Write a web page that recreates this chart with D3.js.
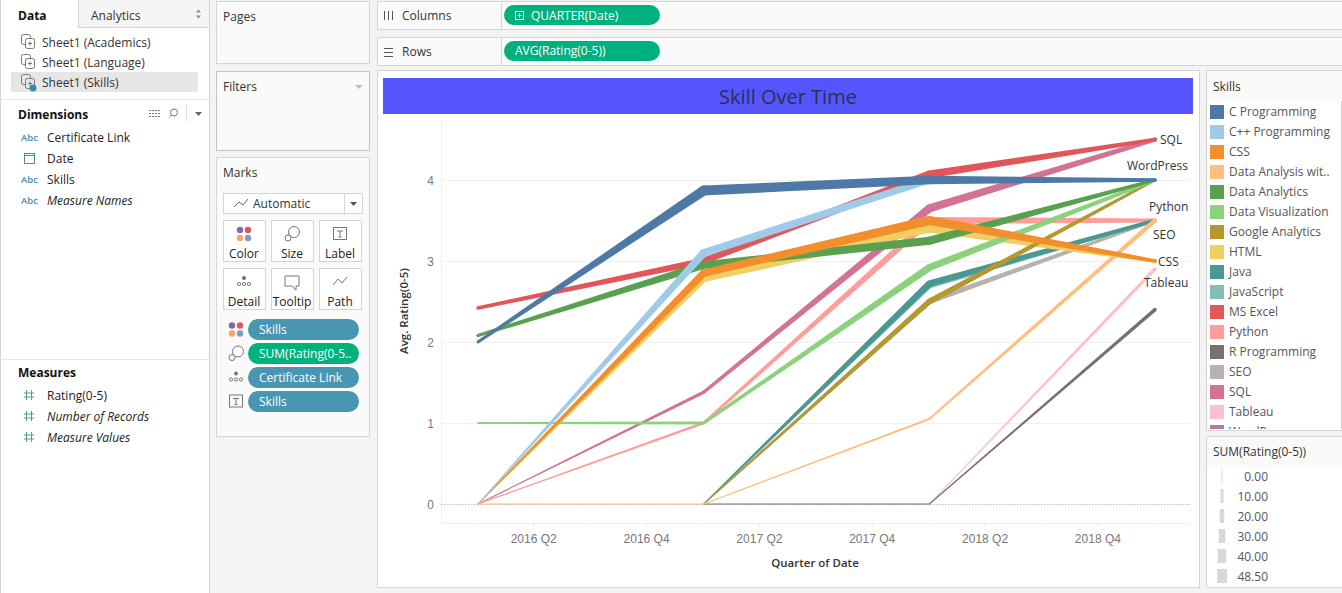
<!DOCTYPE html>
<html>
<head>
<meta charset="utf-8">
<script src="https://cdn.jsdelivr.net/npm/d3@7"></script>
<style>
    html, body { margin: 0; padding: 0; background: #f3f3f3; overflow: hidden; }
    svg { display: block; font-family: "Open Sans", "Noto Sans", sans-serif; }
    text { fill: #333; font-size: 12px; }
</style>
</head>
<body>
<div id="viz"></div>
<script>
// quarters are counted from 2016 Q1, marks only exist on the Q1 of each year
var markQuarters = [0, 4, 8, 12];
var tickQuarters = [1, 3, 5, 7, 9, 11];
var minorQuarters = [0, 2, 4, 6, 8, 10, 12];
var tickLabels = ['2016 Q2', '2016 Q4', '2017 Q2', '2017 Q4', '2018 Q2', '2018 Q4'];
var ratingTicks = [0, 1, 2, 3, 4];

var skills = ['C Programming', 'C++ Programming', 'CSS', 'Data Analysis wit..', 'Data Analytics',
    'Data Visualization', 'Google Analytics', 'HTML', 'Java', 'JavaScript', 'MS Excel', 'Python',
    'R Programming', 'SEO', 'SQL', 'Tableau', 'WordPress'];
var skillColors = ['#4e79a7', '#a0cbe8', '#f28e2b', '#ffbe7d', '#59a14f', '#8cd17d', '#b6992d', '#f1ce63',
    '#499894', '#86bcb6', '#e15759', '#ff9d9a', '#79706e', '#bab0ac', '#d37295', '#fabfd2', '#b07aa1'];

// avg rating at each mark quarter, same order as skills
var ratings = [
    [2.0, 3.87, 4.0, 4.0],
    [0, 3.1, 4.0, 4.0],
    [0, 2.85, 3.5, 3.0],
    [0, 0, 1.05, 3.5],
    [2.08, 2.95, 3.25, 4.0],
    [1, 1, 2.92, 4.0],
    [null, 0, 2.5, 4.0],
    [0, 2.78, 3.4, 3.0],
    [null, 0, 2.72, 3.5],
    [null, 0, 2.7, 3.5],
    [2.42, 3.0, 4.07, 4.5],
    [0, 1, 3.5, 3.5],
    [null, 0, 0, 2.4],
    [null, 0, 2.5, 3.5],
    [0, 1.38, 3.65, 4.5],
    [null, null, 0, 2.9],
    [null, 0, 2.5, 4.0]
];

// sum of rating at each mark quarter, drives the line thickness
var ratingSums = [
    [10, 48.5, 40, 14],
    [0, 37, 32, 14],
    [0, 34, 44, 15],
    [0, 0, 6, 18],
    [12, 35, 39, 12],
    [5, 10, 33, 12],
    [null, 0, 25, 8],
    [0, 30, 38, 14],
    [null, 0, 30, 14],
    [null, 0, 28, 12],
    [14, 30, 37, 15],
    [0, 8, 32, 16],
    [null, 0, 0, 14],
    [null, 0, 24, 10],
    [0, 12, 38, 18],
    [null, null, 0, 14],
    [null, 0, 20, 8]
];

var sizeLegend = [0, 10, 20, 30, 40, 48.5];

var dataSources = ['Sheet1 (Academics)', 'Sheet1 (Language)', 'Sheet1 (Skills)'];
var dimensions = ['Certificate Link', 'Date', 'Skills', 'Measure Names'];
var measures = ['Rating(0-5)', 'Number of Records', 'Measure Values'];
var markCards = ['Color', 'Size', 'Label', 'Detail', 'Tooltip', 'Path'];
var markPills = ['Skills', 'SUM(Rating(0-5..', 'Certificate Link', 'Skills'];

var width = 1342, height = 593;
var svg = d3.select('#viz').append('svg').attr('width', width).attr('height', height);

var borderColor = '#d4d4d4';
var green = '#00b180', teal = '#4996b2';

// stroked boxes sit on the half pixel so the border stays crisp
function box(x, y, w, h, fill, stroke) {
    var off = stroke ? 0.5 : 0;
    return svg.append('rect')
        .attr('x', x + off).attr('y', y + off)
        .attr('width', w).attr('height', h)
        .attr('fill', fill).attr('stroke', stroke || 'none');
}

function label(x, y, str, opts) {
    opts = opts || {};
    return svg.append('text')
        .attr('x', x).attr('y', y + 1)
        .attr('dy', '0.35em')
        .attr('text-anchor', opts.anchor || 'start')
        .style('font-size', (opts.size || 12) + 'px')
        .style('font-weight', opts.weight || 400)
        .style('font-style', opts.italic ? 'italic' : 'normal')
        .style('fill', opts.fill || '#333')
        .text(str);
}

function pill(x, y, w, h, fill, str) {
    box(x, y, w, h, fill).attr('rx', h / 2).attr('ry', h / 2);
    label(x + 11, y + h / 2 - 0.5, str, {fill: '#fff'});
}

function drawIcon(kind, cx, cy) {
    var g = svg.append('g').attr('transform', 'translate(' + cx + ',' + cy + ')')
        .attr('fill', 'none').attr('stroke', '#777');
    if (kind === 'Color') {
        var dots = [[-4, -4, '#7f6a9b'], [4, -4, '#e15759'], [-4, 4, '#f1a66d'], [4, 4, '#7f9cc9']];
        g.attr('stroke', 'none').selectAll('circle').data(dots).enter().append('circle')
            .attr('cx', function(d) { return d[0]; })
            .attr('cy', function(d) { return d[1]; })
            .attr('r', 3.2)
            .attr('fill', function(d) { return d[2]; });
    } else if (kind === 'Size') {
        g.append('circle').attr('cx', 2).attr('cy', -2).attr('r', 5.5).attr('fill', '#fff');
        g.append('circle').attr('cx', -4).attr('cy', 4).attr('r', 3).attr('fill', '#fff');
    } else if (kind === 'Label') {
        g.append('rect').attr('x', -6.5).attr('y', -6.5).attr('width', 13).attr('height', 12);
        g.append('path').attr('d', 'M-3,-3H3M0,-3V3M-1.5,3H1.5');
    } else if (kind === 'Detail') {
        g.append('circle').attr('cx', 0).attr('cy', -4).attr('r', 1.6).attr('fill', '#777');
        [-5, 0, 5].forEach(function(dx) {
            g.append('circle').attr('cx', dx).attr('cy', 2).attr('r', 1.6);
        });
    } else if (kind === 'Tooltip') {
        g.append('path').attr('d', 'M-7,-6H7V4H4V8L0,4H-7Z');
    } else if (kind === 'Path') {
        g.append('path').attr('d', 'M-7,3L-2,-3L2,1L7,-5');
    }
}

// left data pane
box(0, -1, 209, 595, '#fff', borderColor);
box(78, -1, 131, 28, '#f5f5f5', borderColor);
svg.append('line').attr('x1', 0).attr('x2', 209).attr('y1', 99.5).attr('y2', 99.5).attr('stroke', '#e6e6e6');
svg.append('line').attr('x1', 0).attr('x2', 209).attr('y1', 359.5).attr('y2', 359.5).attr('stroke', '#e6e6e6');
label(18, 15, 'Data', {weight: 700, fill: '#111'});
label(91, 15, 'Analytics');
svg.append('path').attr('d', 'M196,12.5l2.5,-3l2.5,3ZM196,15.5l2.5,3l2.5,-3Z').attr('fill', '#8a8a8a');

box(11, 72, 187, 20, '#e6e6e6');
dataSources.forEach(function(name, i) {
    var y = 42 + i * 20;
    svg.append('rect').attr('x', 21.5).attr('y', y - 7.5).attr('width', 9).attr('height', 10).attr('rx', 2)
        .attr('fill', 'none').attr('stroke', '#777');
    svg.append('rect').attr('x', 25.5).attr('y', y - 3.5).attr('width', 9).attr('height', 10).attr('rx', 2)
        .attr('fill', i === 2 ? '#e6e6e6' : '#fff').attr('stroke', '#777');
    svg.append('path').attr('d', 'M28,' + (y + 1.5) + 'h4M30,' + (y - 0.5) + 'v4').attr('stroke', '#777');
    if (i === 2) {
        svg.append('circle').attr('cx', 33).attr('cy', y + 6).attr('r', 3.5).attr('fill', '#3b86b5');
    }
    label(42, y, name);
});

label(18, 114, 'Dimensions', {weight: 700, fill: '#111'});
svg.append('path').attr('d', 'M149,110.5h11M149,113.5h11M149,116.5h11').attr('stroke', '#777').attr('stroke-dasharray', '2 1');
svg.append('circle').attr('cx', 174).attr('cy', 112.5).attr('r', 3.5).attr('fill', 'none').attr('stroke', '#777');
svg.append('path').attr('d', 'M171.5,115l-2.5,2.5').attr('stroke', '#777');
svg.append('line').attr('x1', 186.5).attr('x2', 186.5).attr('y1', 105).attr('y2', 121).attr('stroke', '#ddd');
svg.append('path').attr('d', 'M195,112h7l-3.5,4Z').attr('fill', '#666');

dimensions.forEach(function(name, i) {
    var y = 137 + i * 21;
    if (name === 'Date') {
        box(24, y - 5, 10, 10, '#fff', '#4a8cb0');
        svg.append('line').attr('x1', 24).attr('x2', 34).attr('y1', y - 2.5).attr('y2', y - 2.5).attr('stroke', '#4a8cb0');
    } else {
        label(21, y, 'Abc', {size: 9.5, fill: '#4a8cb0', weight: 600});
    }
    label(47, y, name, {italic: i === 3, fill: '#222'});
});

label(18, 372, 'Measures', {weight: 700, fill: '#111'});
measures.forEach(function(name, i) {
    var y = 395 + i * 21;
    svg.append('path').attr('d', 'M26.5,' + (y - 5) + 'v10M31.5,' + (y - 5) + 'v10M24,' + (y - 2) + 'h10M24,' + (y + 2) + 'h10')
        .attr('stroke', '#4aa57f');
    label(47, y, name, {italic: i > 0, fill: '#222'});
});

// pages, filters, marks cards
box(216, 1, 153, 62, '#fafafa', borderColor);
label(223, 16, 'Pages');
box(216, 71, 153, 79, '#fafafa', '#c4c4c4');
label(223, 86, 'Filters');
svg.append('path').attr('d', 'M355,85h8l-4,4Z').attr('fill', '#bbb');
box(216, 157, 153, 279, '#fafafa', borderColor);
label(223, 172, 'Marks');

box(223, 193, 139, 20, '#fff', borderColor);
svg.append('line').attr('x1', 344.5).attr('x2', 344.5).attr('y1', 193).attr('y2', 213).attr('stroke', borderColor);
svg.append('path').attr('d', 'M234,207l5,-5l4,3l5,-6').attr('fill', 'none').attr('stroke', '#666');
label(253, 203, 'Automatic');
svg.append('path').attr('d', 'M350,202h7l-3.5,4Z').attr('fill', '#555');

markCards.forEach(function(name, i) {
    var cx = 244 + (i % 3) * 48;
    var top = 220 + Math.floor(i / 3) * 48;
    box(cx - 21, top, 42, 41, '#fff', borderColor);
    drawIcon(name, cx, top + 14);
    label(cx, top + 33, name, {anchor: 'middle', fill: '#222'});
});

markPills.forEach(function(name, i) {
    var y = 319 + i * 24;
    pill(248, y, 111, 21, i === 1 ? green : teal, name);
    drawIcon(markCards[[0, 1, 3, 2][i]], 236, y + 10.5);
});

// columns and rows shelves
box(377, 1, 966, 28, '#fafafa', borderColor);
box(377, 37, 966, 28, '#fafafa', borderColor);
svg.append('line').attr('x1', 501.5).attr('x2', 501.5).attr('y1', 1).attr('y2', 29).attr('stroke', borderColor);
svg.append('line').attr('x1', 501.5).attr('x2', 501.5).attr('y1', 37).attr('y2', 65).attr('stroke', borderColor);
svg.append('path').attr('d', 'M384.5,11v9M388.5,11v9M392.5,11v9').attr('stroke', '#555');
label(402, 15, 'Columns');
svg.append('path').attr('d', 'M384,48.5h9M384,52.5h9M384,56.5h9').attr('stroke', '#555');
label(402, 51, 'Rows');
pill(504, 5, 156, 20, green, '');
svg.append('rect').attr('x', 515.5).attr('y', 11.5).attr('width', 8).attr('height', 8).attr('fill', 'none').attr('stroke', '#fff');
svg.append('path').attr('d', 'M517.5,15.5h4M519.5,13.5v4').attr('stroke', '#fff');
label(531, 15, 'QUARTER(Date)', {fill: '#fff'});
pill(504, 41, 156, 20, green, '');
label(515, 50, 'AVG(Rating(0-5))', {fill: '#fff'});

// view
box(377, 70, 822, 517, '#fff', borderColor);
box(383, 78, 810, 36, '#5555ff');
label(788, 96, 'Skill Over Time', {anchor: 'middle', size: 20, fill: '#2f2f4a'});

var x = d3.scaleLinear().domain([0, 12]).range([478, 1155]);
var y = d3.scaleLinear().domain([0, 4]).range([504, 180]);
var size = d3.scaleLinear().domain([0, 48.5]).range([1, 10]);

var plot = svg.append('g');

plot.append('line').attr('x1', 441.5).attr('x2', 441.5).attr('y1', 120).attr('y2', 523).attr('stroke', '#f0f0f0');
plot.append('line').attr('x1', 441).attr('x2', 1191).attr('y1', 523.5).attr('y2', 523.5).attr('stroke', '#f0f0f0');

var yAxis = d3.axisLeft(y).tickValues(ratingTicks).tickSize(0).tickPadding(0).tickFormat(d3.format('d'));
var yAxisG = plot.append('g').attr('transform', 'translate(434,1)').call(yAxis);
yAxisG.select('.domain').remove();
yAxisG.selectAll('text').style('fill', '#777').style('font-size', '12px');

plot.selectAll('.grid').data(ratingTicks.filter(function(d) { return d > 0; })).enter().append('line')
    .attr('x1', 441).attr('x2', 1191)
    .attr('y1', function(d) { return y(d) + 0.5; })
    .attr('y2', function(d) { return y(d) + 0.5; })
    .attr('stroke', '#f0f0f0');
plot.append('line').attr('x1', 441).attr('x2', 1191)
    .attr('y1', y(0) + 0.5).attr('y2', y(0) + 0.5)
    .attr('stroke', '#bbb').attr('stroke-dasharray', '1.5 1.5');

// the axis ticks sit about a pixel left of the marks in the reference
var minorAxis = d3.axisBottom(x).tickValues(minorQuarters).tickSize(2).tickFormat('');
var minorG = plot.append('g').attr('transform', 'translate(-1.2,523)').call(minorAxis);
minorG.select('.domain').remove();
minorG.selectAll('line').attr('stroke', '#eee');

var xAxis = d3.axisBottom(x).tickValues(tickQuarters).tickSize(4).tickPadding(7)
    .tickFormat(function(d, i) { return tickLabels[i]; });
var xAxisG = plot.append('g').attr('transform', 'translate(-1.2,523)').call(xAxis);
xAxisG.select('.domain').remove();
xAxisG.selectAll('line').attr('stroke', '#e6e6e6');
xAxisG.selectAll('text').style('fill', '#777').style('font-size', '12px');

label(815, 562, 'Quarter of Date', {anchor: 'middle', weight: 600, size: 11.5});
label(0, 0, 'Avg. Rating(0-5)', {anchor: 'middle', weight: 600, size: 11.5})
    .attr('transform', 'translate(403,311) rotate(-90)');

// tableau tapers each line segment between the sizes of its two ends
var outline = d3.line();

function segmentShape(a, b) {
    var dx = b.px - a.px, dy = b.py - a.py;
    var len = Math.sqrt(dx * dx + dy * dy);
    var nx = -dy / len, ny = dx / len;
    return outline([
        [a.px + nx * a.w / 2, a.py + ny * a.w / 2],
        [b.px + nx * b.w / 2, b.py + ny * b.w / 2],
        [b.px - nx * b.w / 2, b.py - ny * b.w / 2],
        [a.px - nx * a.w / 2, a.py - ny * a.w / 2]
    ]) + 'Z';
}

var lines = skills.map(function(name, i) {
    var pts = [];
    markQuarters.forEach(function(q, j) {
        if (ratings[i][j] !== null) {
            pts.push({px: x(q), py: y(ratings[i][j]), w: size(ratingSums[i][j])});
        }
    });
    return {name: name, color: skillColors[i], pts: pts};
});

// first legend entry ends up on top
var skillG = plot.selectAll('.skill').data(lines.slice().reverse()).enter().append('g')
    .attr('class', 'skill')
    .attr('fill', function(d) { return d.color; });

skillG.selectAll('path').data(function(d) { return d3.pairs(d.pts); }).enter().append('path')
    .attr('d', function(d) { return segmentShape(d[0], d[1]); });

skillG.selectAll('circle').data(function(d) { return d.pts; }).enter().append('circle')
    .attr('cx', function(d) { return d.px; })
    .attr('cy', function(d) { return d.py; })
    .attr('r', function(d) { return d.w / 2; });

// end labels were moved by hand in the original, so they are placed by hand here too
var endLabels = {
    'SQL': [1160, 139], 'WordPress': [1127, 165], 'Python': [1149, 206],
    'SEO': [1153, 234], 'CSS': [1158, 261], 'Tableau': [1144, 282]
};
Object.keys(endLabels).forEach(function(name) {
    label(endLabels[name][0], endLabels[name][1], name);
});

// skills legend
box(1206, 70, 137, 360, '#fff', borderColor);
box(1207, 71, 136, 30, '#fafafa');
label(1213, 86, 'Skills');

svg.append('clipPath').attr('id', 'legend-clip').append('rect')
    .attr('x', 1207).attr('y', 101).attr('width', 135).attr('height', 328);
var legendG = svg.append('g').attr('clip-path', 'url(#legend-clip)');
var legendRow = legendG.selectAll('g').data(skills).enter().append('g')
    .attr('transform', function(d, i) { return 'translate(1210,' + (112 + i * 20) + ')'; });
legendRow.append('rect')
    .attr('x', 0).attr('y', -7).attr('width', 14).attr('height', 14)
    .attr('fill', function(d, i) { return skillColors[i]; });
legendRow.append('text')
    .attr('x', 19).attr('dy', '0.35em')
    .style('fill', '#555')
    .text(function(d) { return d; });
svg.append('line').attr('x1', 1341.5).attr('x2', 1341.5).attr('y1', 101).attr('y2', 429).attr('stroke', '#ccc');

// size legend
box(1206, 436, 137, 151, '#fff', borderColor);
box(1207, 437, 136, 31, '#fafafa');
label(1213, 451, 'SUM(Rating(0-5))');

var sizeRow = svg.selectAll('.size-row').data(sizeLegend).enter().append('g')
    .attr('class', 'size-row')
    .attr('transform', function(d, i) { return 'translate(1222,' + (476 + i * 20) + ')'; });
sizeRow.append('rect')
    .attr('x', function(d) { return -size(d) / 2; })
    .attr('y', -7)
    .attr('width', function(d) { return size(d); })
    .attr('height', 14)
    .attr('fill', '#d8d8d8');
sizeRow.append('text')
    .attr('x', 46).attr('y', 1).attr('dy', '0.35em')
    .attr('text-anchor', 'end')
    .style('fill', '#555')
    .text(function(d) { return d.toFixed(2); });
</script>
</body>
</html>
